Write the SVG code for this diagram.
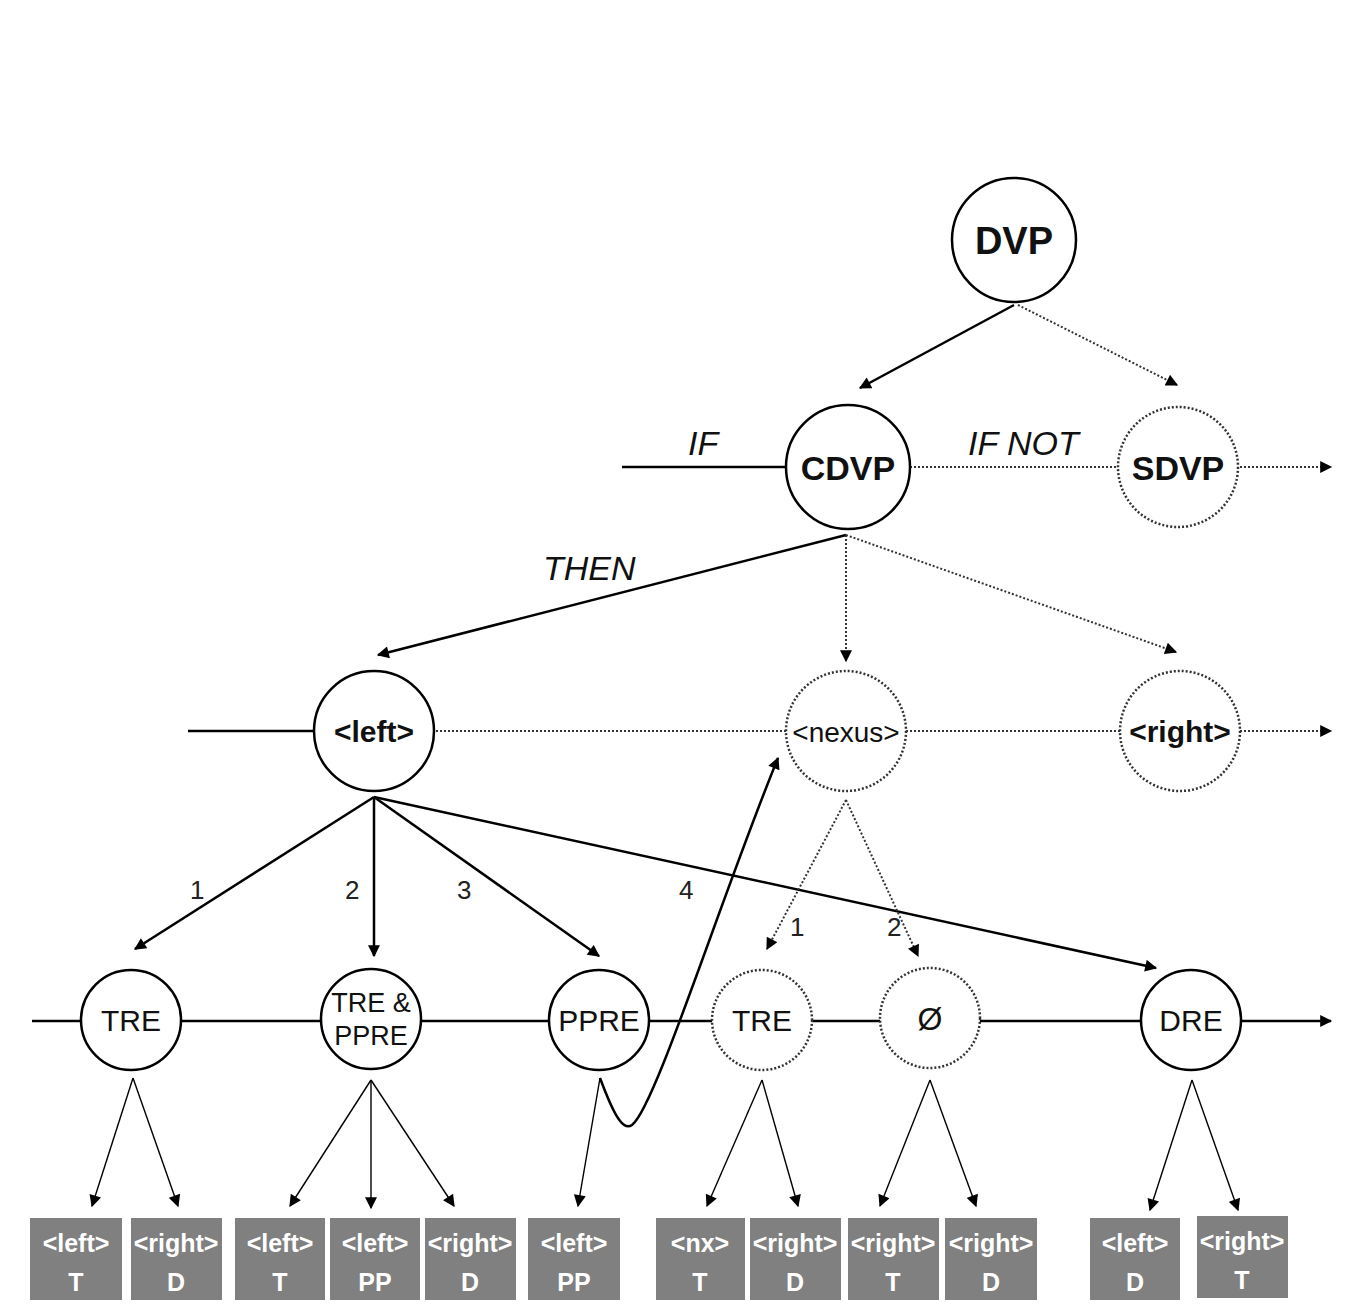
<svg xmlns="http://www.w3.org/2000/svg" width="1349" height="1312" viewBox="0 0 1349 1312">
<style>
.n{fill:#fff;stroke:#000;stroke-width:2.5}
.d{fill:#fff;stroke:#333;stroke-width:2.5;stroke-dasharray:2 2}
.t{font-family:"Liberation Sans",Arial,sans-serif;text-anchor:middle;fill:#111}
.b{font-weight:bold}
.s{stroke:#000;stroke-width:2.5;fill:none}
.dt{stroke:#333;stroke-width:2;stroke-dasharray:2 2;fill:none}
.th{stroke:#000;stroke-width:1.4;fill:none}
.bx{fill:#808080}
.bt{font-family:"Liberation Sans",Arial,sans-serif;font-weight:bold;font-size:25px;fill:#fff;text-anchor:middle}
.lb{font-family:"Liberation Sans",Arial,sans-serif;font-style:italic;font-size:34px;fill:#111}
.num{font-family:"Liberation Sans",Arial,sans-serif;font-size:26px;fill:#222}
</style>
<defs>
<marker id="A" viewBox="0 0 10 10" refX="9" refY="5" markerWidth="14" markerHeight="12" markerUnits="userSpaceOnUse" orient="auto"><path d="M0,0L10,5L0,10z" fill="#000"/></marker>
</defs>
<rect width="1349" height="1312" fill="#fff"/>
<g id="connectors">
<line class="s" x1="622" y1="467" x2="786" y2="467"/>
<line class="dt" x1="910" y1="467" x2="1118" y2="467"/>
<line class="dt" x1="1240" y1="467" x2="1331" y2="467" marker-end="url(#A)"/>
<line class="s" x1="188" y1="731" x2="314" y2="731"/>
<line class="dt" x1="436" y1="731" x2="786" y2="731"/>
<line class="dt" x1="906" y1="731" x2="1120" y2="731"/>
<line class="dt" x1="1240" y1="731" x2="1331" y2="731" marker-end="url(#A)"/>
<line class="s" x1="32" y1="1021" x2="1331" y2="1021" marker-end="url(#A)"/>
<line class="s" x1="1014" y1="305" x2="860" y2="388" marker-end="url(#A)"/>
<line class="dt" x1="1018" y1="305" x2="1177" y2="385" marker-end="url(#A)"/>
<line class="s" x1="846" y1="535" x2="378" y2="655" marker-end="url(#A)"/>
<line class="dt" x1="846" y1="535" x2="846" y2="661" marker-end="url(#A)"/>
<line class="dt" x1="846" y1="535" x2="1176" y2="652" marker-end="url(#A)"/>
<line class="s" x1="374" y1="797" x2="135" y2="949" marker-end="url(#A)"/>
<line class="s" x1="374" y1="797" x2="374" y2="956" marker-end="url(#A)"/>
<line class="s" x1="374" y1="797" x2="599" y2="956" marker-end="url(#A)"/>
<line class="s" x1="374" y1="797" x2="1156" y2="968" marker-end="url(#A)"/>
<line class="dt" x1="846" y1="800" x2="767" y2="949" marker-end="url(#A)"/>
<line class="dt" x1="846" y1="800" x2="918" y2="956" marker-end="url(#A)"/>
<path class="s" d="M600,1078 C612,1110 622,1132 632,1125 C655,1108 720,900 778,758" marker-end="url(#A)"/>
<line class="th" x1="133" y1="1078" x2="92" y2="1206" marker-end="url(#A)"/>
<line class="th" x1="133" y1="1078" x2="178" y2="1206" marker-end="url(#A)"/>
<line class="th" x1="371" y1="1080" x2="290" y2="1206" marker-end="url(#A)"/>
<line class="th" x1="371" y1="1080" x2="371" y2="1208" marker-end="url(#A)"/>
<line class="th" x1="371" y1="1080" x2="454" y2="1206" marker-end="url(#A)"/>
<line class="th" x1="600" y1="1078" x2="578" y2="1206" marker-end="url(#A)"/>
<line class="th" x1="762" y1="1080" x2="707" y2="1206" marker-end="url(#A)" stroke="#555"/>
<line class="th" x1="762" y1="1080" x2="798" y2="1206" marker-end="url(#A)" stroke="#555"/>
<line class="th" x1="930" y1="1080" x2="880" y2="1206" marker-end="url(#A)" stroke="#555"/>
<line class="th" x1="930" y1="1080" x2="976" y2="1206" marker-end="url(#A)" stroke="#555"/>
<line class="th" x1="1192" y1="1080" x2="1150" y2="1210" marker-end="url(#A)"/>
<line class="th" x1="1192" y1="1080" x2="1238" y2="1210" marker-end="url(#A)"/>
<text class="lb" x="688" y="455">IF</text>
<text class="lb" x="968" y="455">IF NOT</text>
<text class="lb" x="543" y="580">THEN</text>
<text class="num" x="190" y="899">1</text>
<text class="num" x="345" y="899">2</text>
<text class="num" x="457" y="899">3</text>
<text class="num" x="679" y="899">4</text>
<text class="num" x="790" y="936" fill="#999">1</text>
<text class="num" x="887" y="936" fill="#999">2</text>
</g>
<g id="DVP"><circle class="n" cx="1014" cy="240" r="62"/><text class="t b" x="1014" y="254" font-size="38">DVP</text></g>
<g id="CDVP"><circle class="n" cx="848" cy="467" r="62"/><text class="t b" x="848" y="480" font-size="34">CDVP</text></g>
<g id="SDVP"><circle class="d" cx="1178" cy="467" r="60"/><text class="t b" x="1178" y="480" font-size="34">SDVP</text></g>
<g id="left"><circle class="n" cx="374" cy="731" r="60"/><text class="t b" x="374" y="742" font-size="30">&lt;left&gt;</text></g>
<g id="nexus"><circle class="d" cx="846" cy="731" r="60"/><text class="t" x="846" y="742" font-size="28">&lt;nexus&gt;</text></g>
<g id="right"><circle class="d" cx="1180" cy="731" r="60"/><text class="t b" x="1180" y="742" font-size="30">&lt;right&gt;</text></g>
<g id="TRE1"><circle class="n" cx="131" cy="1020" r="50"/><text class="t" x="131" y="1031" font-size="30">TRE</text></g>
<g id="TREPPRE"><circle class="n" cx="371" cy="1019" r="50"/><text class="t" x="371" y="1012" font-size="27">TRE &amp;</text><text class="t" x="371" y="1045" font-size="27">PPRE</text></g>
<g id="PPRE"><circle class="n" cx="599" cy="1020" r="50"/><text class="t" x="599" y="1031" font-size="30">PPRE</text></g>
<g id="TRE2"><circle class="d" cx="762" cy="1020" r="50"/><text class="t" x="762" y="1031" font-size="30">TRE</text></g>
<g id="empty"><circle class="d" cx="930" cy="1018" r="50"/><text class="t" x="930" y="1030" font-size="32">Ø</text></g>
<g id="DRE"><circle class="n" cx="1191" cy="1020" r="50"/><text class="t" x="1191" y="1031" font-size="30">DRE</text></g>
<g id="boxes">
<g id="b1"><rect class="bx" x="30" y="1218" width="92" height="82"/><text class="bt" x="76" y="1252">&lt;left&gt;</text><text class="bt" x="76" y="1291">T</text></g>
<g id="b2"><rect class="bx" x="131" y="1218" width="91" height="82"/><text class="bt" x="176" y="1252">&lt;right&gt;</text><text class="bt" x="176" y="1291">D</text></g>
<g id="b3"><rect class="bx" x="235" y="1218" width="90" height="82"/><text class="bt" x="280" y="1252">&lt;left&gt;</text><text class="bt" x="280" y="1291">T</text></g>
<g id="b4"><rect class="bx" x="330" y="1218" width="90" height="82"/><text class="bt" x="375" y="1252">&lt;left&gt;</text><text class="bt" x="375" y="1291">PP</text></g>
<g id="b5"><rect class="bx" x="425" y="1218" width="91" height="82"/><text class="bt" x="470" y="1252">&lt;right&gt;</text><text class="bt" x="470" y="1291">D</text></g>
<g id="b6"><rect class="bx" x="528" y="1218" width="92" height="82"/><text class="bt" x="574" y="1252">&lt;left&gt;</text><text class="bt" x="574" y="1291">PP</text></g>
<g id="b7"><rect class="bx" x="656" y="1218" width="89" height="82"/><text class="bt" x="700" y="1252">&lt;nx&gt;</text><text class="bt" x="700" y="1291">T</text></g>
<g id="b8"><rect class="bx" x="750" y="1218" width="91" height="82"/><text class="bt" x="795" y="1252">&lt;right&gt;</text><text class="bt" x="795" y="1291">D</text></g>
<g id="b9"><rect class="bx" x="848" y="1218" width="91" height="82"/><text class="bt" x="893" y="1252">&lt;right&gt;</text><text class="bt" x="893" y="1291">T</text></g>
<g id="b10"><rect class="bx" x="945" y="1218" width="92" height="82"/><text class="bt" x="991" y="1252">&lt;right&gt;</text><text class="bt" x="991" y="1291">D</text></g>
<g id="b11"><rect class="bx" x="1090" y="1218" width="90" height="82"/><text class="bt" x="1135" y="1252">&lt;left&gt;</text><text class="bt" x="1135" y="1291">D</text></g>
<g id="b12"><rect class="bx" x="1197" y="1216" width="91" height="82"/><text class="bt" x="1242" y="1250">&lt;right&gt;</text><text class="bt" x="1242" y="1289">T</text></g>
</g>
</svg>
